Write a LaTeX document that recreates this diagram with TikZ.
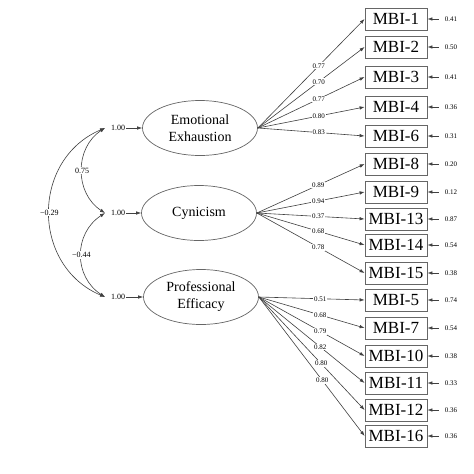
\documentclass[tikz,border=0pt]{standalone}
\usepackage{fontspec}
\setmainfont{Liberation Serif}
\usetikzlibrary{arrows.meta,positioning,shapes.geometric}

\begin{document}
\begin{tikzpicture}[
    x=1pt, y=1pt,
    latent/.style={draw=black!60, ellipse, line width=0.7pt,
                   minimum width=115pt, minimum height=55pt, align=center,
                   font=\fontsize{14}{17}\selectfont},
    obs/.style={draw=black!60, line width=0.8pt, minimum width=62pt,
                minimum height=22pt, inner sep=1pt,
                font=\fontsize{17}{20}\selectfont},
    arr/.style={-{Latex[length=5pt,width=3.5pt]}, line width=0.6pt, draw=black!75},
    dbl/.style={{Latex[length=5pt,width=3.5pt]}-{Latex[length=5pt,width=3.5pt]},
                line width=0.6pt, draw=black!75},
    coef/.style={font=\fontsize{7}{8}\selectfont, fill=white, inner sep=1pt},
    resid/.style={font=\fontsize{7}{8}\selectfont, inner xsep=6pt, inner ysep=1pt},
    varlab/.style={font=\fontsize{8}{9}\selectfont, inner sep=1pt},
    covlab/.style={font=\fontsize{8}{9}\selectfont, fill=white, inner sep=1pt}
]
\fill[white] (0,0) rectangle (474,-474);
\useasboundingbox (0,0) rectangle (474,-474);

% ── Latent factors ──
\node[latent] (ee) at (200,-128) {Emotional\\Exhaustion};
\node[latent] (cy) at (199,-213) {Cynicism};
\node[latent] (pe) at (201,-297) {Professional\\Efficacy};

% ── Variances and covariances ──
\coordinate (c1) at (105,-128);
\coordinate (c2) at (105,-213);
\coordinate (c3) at (105,-297);
\node[varlab, right=5pt of c1] (v1) {1.00};
\node[varlab, right=5pt of c2] (v2) {1.00};
\node[varlab, right=5pt of c3] (v3) {1.00};
\draw[arr] (v1) -- (ee);
\draw[arr] (v2) -- (cy);
\draw[arr] (v3) -- (pe);

\draw[dbl] (c1) to[bend right=57, looseness=1.1] node[covlab] {0.75} (c2);
\draw[dbl] (c2) to[bend right=57, looseness=1.15] node[covlab] {−0.44} (c3);
\draw[dbl] (c1) to[bend right=67, looseness=1.22] node[covlab] {−0.29} (c3);

% ── Indicators ──
\node[obs] (m1)  at (396,-19)  {MBI-1};
\node[obs] (m2)  at (396,-47)  {MBI-2};
\node[obs] (m3)  at (396,-77)  {MBI-3};
\node[obs] (m4)  at (396,-107) {MBI-4};
\node[obs] (m6)  at (396,-136) {MBI-6};
\node[obs] (m8)  at (396,-164) {MBI-8};
\node[obs] (m9)  at (396,-192) {MBI-9};
\node[obs] (m13) at (396,-219) {MBI-13};
\node[obs] (m14) at (396,-245) {MBI-14};
\node[obs] (m15) at (396,-273) {MBI-15};
\node[obs] (m5)  at (396,-300) {MBI-5};
\node[obs] (m7)  at (396,-328) {MBI-7};
\node[obs] (m10) at (396,-356) {MBI-10};
\node[obs] (m11) at (396,-383) {MBI-11};
\node[obs] (m12) at (396,-410) {MBI-12};
\node[obs] (m16) at (396,-436) {MBI-16};

% ── Loadings ──
\draw[arr] (ee.east) -- node[coef, pos=0.57] {0.77} (m1.west);
\draw[arr] (ee.east) -- node[coef, pos=0.57] {0.70} (m2.west);
\draw[arr] (ee.east) -- node[coef, pos=0.57] {0.77} (m3.west);
\draw[arr] (ee.east) -- node[coef, pos=0.57] {0.80} (m4.west);
\draw[arr] (ee.east) -- node[coef, pos=0.57] {0.83} (m6.west);

\draw[arr] (cy.east) -- node[coef, pos=0.57] {0.89} (m8.west);
\draw[arr] (cy.east) -- node[coef, pos=0.57] {0.94} (m9.west);
\draw[arr] (cy.east) -- node[coef, pos=0.57] {0.37} (m13.west);
\draw[arr] (cy.east) -- node[coef, pos=0.57] {0.68} (m14.west);
\draw[arr] (cy.east) -- node[coef, pos=0.57] {0.78} (m15.west);

\draw[arr] (pe.east) -- node[coef, pos=0.58] {0.51} (m5.west);
\draw[arr] (pe.east) -- node[coef, pos=0.58] {0.68} (m7.west);
\draw[arr] (pe.east) -- node[coef, pos=0.58] {0.79} (m10.west);
\draw[arr] (pe.east) -- node[coef, pos=0.58] {0.82} (m11.west);
\draw[arr] (pe.east) -- node[coef, pos=0.59] {0.80} (m12.west);
\draw[arr] (pe.east) -- node[coef, pos=0.6] {0.80} (m16.west);

% ── Residuals ──
\node[resid] (r1)  at (451,-19)  {0.41};
\node[resid] (r2)  at (451,-47)  {0.50};
\node[resid] (r3)  at (451,-77)  {0.41};
\node[resid] (r4)  at (451,-107) {0.36};
\node[resid] (r6)  at (451,-136) {0.31};
\node[resid] (r8)  at (451,-164) {0.20};
\node[resid] (r9)  at (451,-192) {0.12};
\node[resid] (r13) at (451,-219) {0.87};
\node[resid] (r14) at (451,-245) {0.54};
\node[resid] (r15) at (451,-273) {0.38};
\node[resid] (r5)  at (451,-300) {0.74};
\node[resid] (r7)  at (451,-328) {0.54};
\node[resid] (r10) at (451,-356) {0.38};
\node[resid] (r11) at (451,-383) {0.33};
\node[resid] (r12) at (451,-410) {0.36};
\node[resid] (r16) at (451,-436) {0.36};

\draw[arr] (r1) -- (m1);
\draw[arr] (r2) -- (m2);
\draw[arr] (r3) -- (m3);
\draw[arr] (r4) -- (m4);
\draw[arr] (r6) -- (m6);
\draw[arr] (r8) -- (m8);
\draw[arr] (r9) -- (m9);
\draw[arr] (r13) -- (m13);
\draw[arr] (r14) -- (m14);
\draw[arr] (r15) -- (m15);
\draw[arr] (r5) -- (m5);
\draw[arr] (r7) -- (m7);
\draw[arr] (r10) -- (m10);
\draw[arr] (r11) -- (m11);
\draw[arr] (r12) -- (m12);
\draw[arr] (r16) -- (m16);

\end{tikzpicture}
\end{document}
